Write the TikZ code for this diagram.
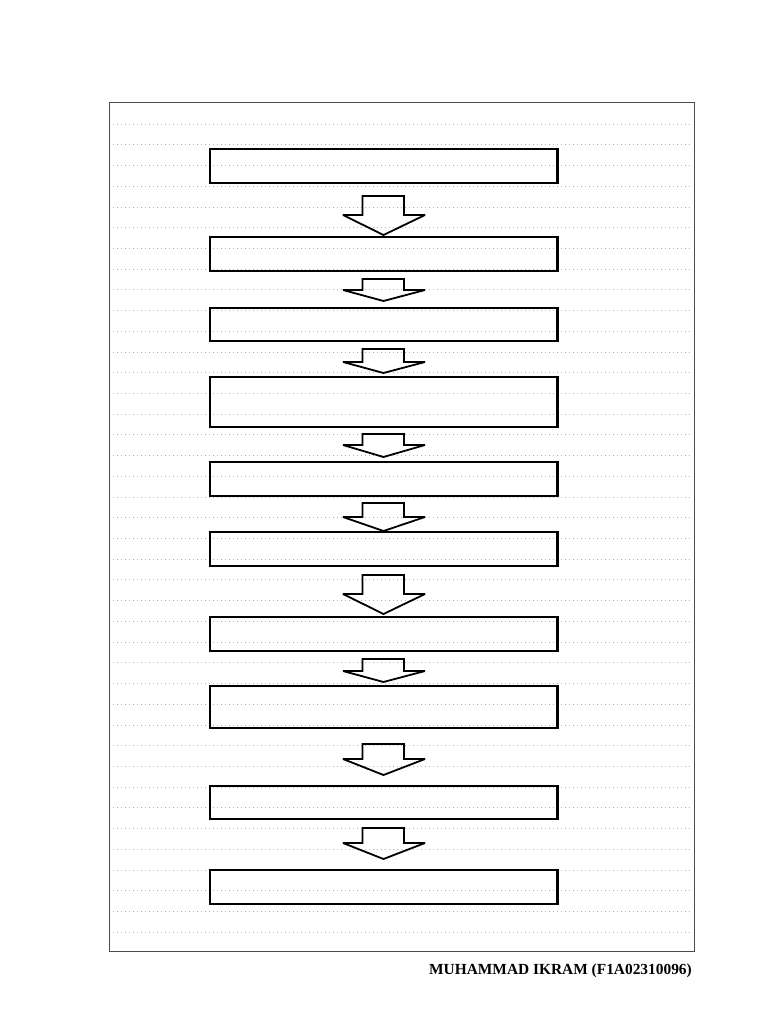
\documentclass[tikz,border=0pt]{standalone}
\usepackage{fontspec}
\setmainfont{Liberation Serif}
\begin{document}
\begin{tikzpicture}[x=1pt,y=-1pt,
  stepbox/.style={draw=black,line width=2.2pt,fill=none},
  blockarrow/.style={draw=black,line width=1.8pt,fill=none,line join=miter,miter limit=3},
  dotline/.style={draw=black!30,line width=0.7pt,dash pattern=on 0.9pt off 3.1pt},
  frame/.style={draw=black!70,line width=0.9pt}]
\useasboundingbox (0,0) rectangle (768,1024);
% ruled dotted lines
\foreach \i in {0,...,39}{
  \draw[dotline] (113,124+20.72*\i) -- (692,124+20.72*\i);
}
% outer frame
\draw[frame] (109.5,102.5) rectangle (694,951);
% boxes
\foreach \n/\t/\b in {1/149/183,2/237/271,3/308/341,4/377/427,5/462/496,6/532/566,7/617/651,8/686/728,9/786/819,10/870/904}{
  \draw[stepbox] (210,\t) rectangle (557.5,\b);
  \coordinate (b\n) at (383.75,{(\t+\b)/2});
}
% block arrows
\foreach \top/\head/\tip in {196/215/235,279/290/301,349/362/373,434/445/457,503/517/531,575/594/614,659/671/682,744/759/775,828/843/859}{
  \draw[blockarrow] (362.5,\top) -- (404,\top) -- (404,\head) -- (425,\head) -- (383.5,\tip) -- (343,\head) -- (362.5,\head) -- cycle;
}
% author
\node[anchor=base east,inner sep=0pt,font=\fontsize{15.4}{18}\selectfont\bfseries] (author) at (692,974) {MUHAMMAD IKRAM (F1A02310096)};
\end{tikzpicture}
\end{document}
